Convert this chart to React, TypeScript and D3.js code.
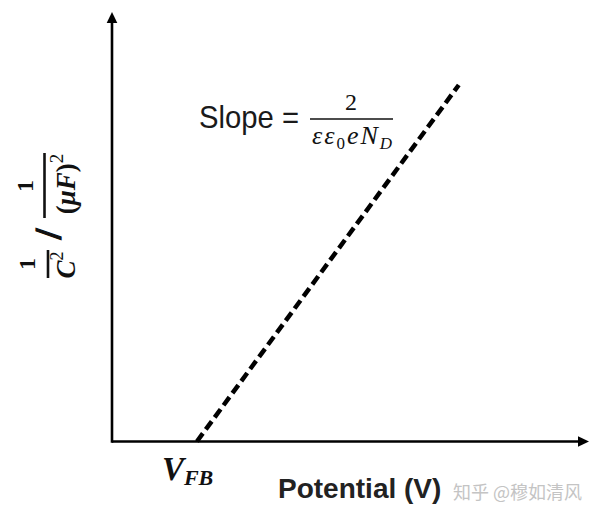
import React from "react";
import * as d3 from "d3";

// Mott-Schottky schematic: 1/C^2 vs potential, relative units
const potential = [0.178, 0.727];
const invCapSq = [0, 0.83];
const xLabel = "Potential (V)";
const flatBandLabel = "V";
const flatBandSub = "FB";
const watermark = "知乎 @穆如清风";

const W = 600;
const H = 523;

const App: React.FC = () => {
  const x = d3.scaleLinear().domain([0, 1]).range([112, 589]);
  const y = d3.scaleLinear().domain([0, 1]).range([441.5, 12]);

  const pts = potential.map((p, i) => [x(p), y(invCapSq[i])] as [number, number]);
  const line = d3.line<[number, number]>()(pts) || "";

  const x0 = x(0);
  const y0 = y(0);
  const xEnd = x(1);
  const yEnd = y(1);
  const vfb = x(potential[0]);

  const serif = "'Liberation Serif', 'DejaVu Serif', serif";
  const sans = "'Liberation Sans', Arial, sans-serif";

  return (
    <svg
      width={W}
      height={H}
      style={{ position: "absolute", left: 0, top: 0, background: "#fff" }}
    >
      {/* axes */}
      <line x1={x0} y1={y0} x2={xEnd - 8} y2={y0} stroke="#000" strokeWidth={2.6} />
      <line x1={x0} y1={y0 + 1.3} x2={x0} y2={yEnd + 8} stroke="#000" strokeWidth={2.6} />
      <path d={`M${xEnd},${y0} L${xEnd - 11},${y0 - 5.3} L${xEnd - 11},${y0 + 5.3} Z`} fill="#000" />
      <path d={`M${x0},${yEnd} L${x0 - 5.3},${yEnd + 11} L${x0 + 5.3},${yEnd + 11} Z`} fill="#000" />

      {/* dashed line */}
      <path d={line} fill="none" stroke="#000" strokeWidth={4.5} strokeDasharray="10 5" />

      {/* slope annotation */}
      <text x={199} y={128} fontFamily={sans} fontSize={32} textLength={100} lengthAdjust="spacingAndGlyphs" fill="#1a1a1a">
        Slope =
      </text>
      <text x={351} y={110} fontFamily={serif} fontSize={24} textAnchor="middle" fill="#111">2</text>
      <line x1={310} y1={119} x2={393} y2={119} stroke="#111" strokeWidth={1.5} />
      <text x={312} y={144} fontFamily={serif} fontSize={26} fontStyle="italic" fill="#111"
        textLength={80} lengthAdjust="spacing">
        εε<tspan fontSize={17} fontStyle="normal" dy={5}>0</tspan>
        <tspan dy={-5}>eN</tspan>
        <tspan fontSize={17} dy={5}>D</tspan>
      </text>

      {/* y label */}
      <g transform="translate(48,234) rotate(-90)" fontFamily={serif} fontWeight="bold" fill="#111">
        <text x={-30} y={-13} fontSize={24} textAnchor="middle">1</text>
        <line x1={-44} y1={0} x2={-16} y2={0} stroke="#111" strokeWidth={2.6} />
        <text x={-31} y={27} fontSize={27} fontStyle="italic" textAnchor="middle">
          C<tspan fontSize={18} fontStyle="normal" fontWeight="normal" dy={-12}>2</tspan>
        </text>
        <text x={0} y={13} fontSize={38} textAnchor="middle" stroke="#111" strokeWidth={1.2}>/</text>
        <text x={48} y={-15} fontSize={24} textAnchor="middle">1</text>
        <line x1={16} y1={-3.5} x2={81} y2={-3.5} stroke="#111" strokeWidth={2.6} />
        <text x={50} y={27} fontSize={27} textAnchor="middle">
          (<tspan fontStyle="italic">μF</tspan>)<tspan fontSize={19} fontWeight="normal" dy={-12}>2</tspan>
        </text>
      </g>

      {/* V_FB */}
      <text x={vfb - 35} y={480} fontFamily={serif} fontWeight="bold" fontStyle="italic" fontSize={33} fill="#111">
        {flatBandLabel}
        <tspan fontSize={22} dy={5}>{flatBandSub}</tspan>
      </text>

      {/* x label */}
      <text x={278} y={498} fontFamily={sans} fontWeight="bold" fontSize={28} fill="#222">
        {xLabel}
      </text>

      {/* watermark */}
      <text x={453} y={499} fontFamily="'Noto Sans CJK SC', sans-serif" fontSize={18} fill="#c4c4c4">
        {watermark}
      </text>
    </svg>
  );
};

export default App;
